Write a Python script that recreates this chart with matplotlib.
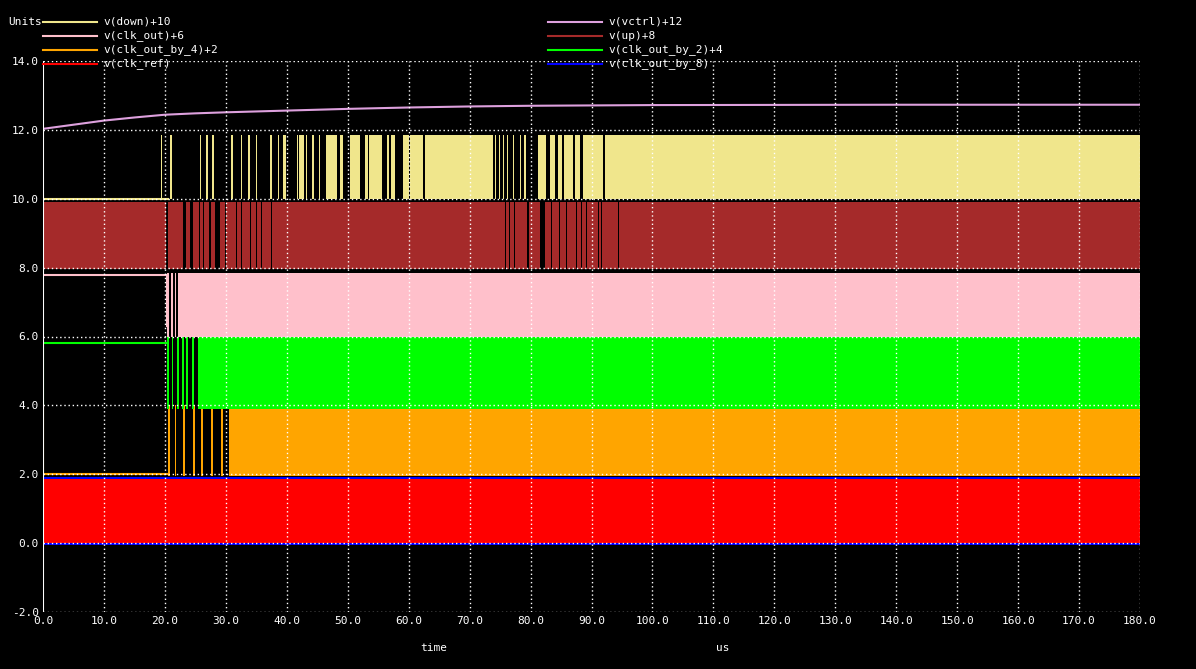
import matplotlib
matplotlib.use("Agg")
import matplotlib.pyplot as plt
import numpy as np

# vctrl+12 curve
vctrl_t = [0, 5, 10, 15, 20, 25, 30, 40, 50, 60, 70, 80, 100, 140, 180]
vctrl_v = [12.03, 12.15, 12.27, 12.36, 12.44, 12.48, 12.51, 12.56, 12.61, 12.65, 12.68, 12.70, 12.72, 12.73, 12.73]

# v(down)+10 : time intervals where the signal is high
down_segs = [[19.4, 19.6], [20.9, 21.1], [25.8, 26.0], [26.8, 27.0], [27.8, 28.0], [30.9, 31.1], [32.5, 32.7],
             [33.7, 33.9], [34.9, 35.1], [37.3, 37.5], [38.5, 38.7], [39.3, 39.5], [39.6, 39.8], [41.7, 41.9],
             [42.0, 42.8], [43.2, 43.4], [44.2, 44.4], [45.3, 45.5], [46.4, 48.2], [48.8, 49.0], [49.1, 49.3],
             [50.4, 52.0], [52.8, 53.3], [53.5, 55.6], [56.5, 56.7], [57.1, 57.8], [59.1, 60.0], [60.2, 62.3],
             [62.7, 73.8], [74.2, 74.4], [74.8, 75.0], [75.4, 75.6], [76.1, 76.3], [77.1, 77.3], [78.2, 78.4],
             [79.0, 79.2], [81.2, 82.6], [83.2, 84.0], [84.5, 85.2], [85.5, 87.0], [87.3, 88.1], [88.6, 91.9],
             [92.2, 180]]
# v(up)+8 : time intervals where the signal drops (gaps in the band)
up_gaps = [[20.2, 20.5], [22.9, 23.5], [24.2, 24.6], [25.6, 25.8], [26.2, 26.4], [27.3, 27.5], [28.2, 29.0],
           [29.8, 30.0], [31.6, 31.8], [32.5, 32.7], [33.9, 34.1], [34.9, 35.1], [35.8, 36.0], [37.4, 37.6],
           [75.8, 75.95], [76.5, 76.65], [77.3, 77.45], [77.7, 77.85], [79.4, 79.8], [81.6, 82.4], [83.4, 83.6],
           [84.7, 84.9], [85.8, 86.0], [87.5, 87.7], [88.3, 88.5], [89.1, 89.3], [91.0, 91.2], [91.6, 91.8],
           [94.3, 94.5]]
clkout_segs = [[20.3, 20.6], [21.0, 21.3], [21.6, 21.8], [22.1, 180]]
by2_segs = [[20.4, 20.7], [21.1, 21.4], [22.0, 22.3], [22.8, 23.1], [23.5, 23.8], [24.4, 24.7], [25.5, 180]]
by4_segs = [[20.5, 20.8], [21.6, 21.9], [23.0, 23.3], [24.6, 24.9], [26.0, 26.3], [27.6, 27.9], [29.2, 29.5], [30.6, 180]]
clkref_segs = [[0, 180]]
by8_segs = [[0, 180]]

bg = "black"
fig = plt.figure(figsize=(11.96, 6.69), dpi=100, facecolor=bg)
ax = fig.add_axes([43/1196, 57/669, (1140-43)/1196, (612-61)/669], facecolor=bg)
ax.set_xlim(0, 180)
ax.set_ylim(-2, 14)

def band(segs, lo, hi, color):
    ax.broken_barh([(a, b - a) for a, b in segs], (lo, hi - lo), facecolor=color, edgecolor="none", zorder=2)

up_segs = []
prev = 0.0
for a, b in up_gaps:
    up_segs.append([prev, a])
    prev = b
up_segs.append([prev, 180])

band(by8_segs, -0.06, 1.92, "#0000ff")
band(clkref_segs, 0.0, 1.85, "#ff0000")
band(by4_segs, 1.95, 4.0, "#ffa500")
band(by2_segs, 3.9, 6.0, "#00ff00")
band(clkout_segs, 6.0, 7.85, "#ffc0cb")
band(up_segs, 7.95, 9.9, "#a52a2a")
band(down_segs, 10.0, 11.85, "#f0e68c")

# pre-lock flat lines
ax.plot([0, 20.5], [10.0, 10.0], color="#f0e68c", lw=1.5, zorder=3)
ax.plot([0, 20.3, 20.3], [7.8, 7.8, 6.3], color="#ffc0cb", lw=1.5, zorder=3)
ax.plot([0, 0, 20.4], [4.0, 5.8, 5.8], color="#00ff00", lw=1.5, zorder=3)
ax.plot([0, 0, 20.5], [4.0, 2.0, 2.0], color="#ffa500", lw=1.5, zorder=3)
ax.plot(vctrl_t, vctrl_v, color="#dda0dd", lw=1.5, zorder=3)

for x in range(10, 181, 10):
    ax.axvline(x, color="white", ls=(0, (1, 2)), lw=1, zorder=4)
for y in range(-2, 15, 2):
    ax.axhline(y, color="white", ls=(0, (1, 2)), lw=1, zorder=4)
ax.axvline(0, color="white", lw=1.5, zorder=5)
for s in ax.spines.values():
    s.set_visible(False)
ax.set_xticks(range(0, 181, 10))
ax.set_xticklabels([f"{x}.0" for x in range(0, 181, 10)])
ax.set_yticks(range(-2, 15, 2))
ax.set_yticklabels([f"{y}.0" for y in range(-2, 15, 2)])
ax.tick_params(colors="white", labelsize=8, length=0, pad=3)
for lab in ax.get_xticklabels() + ax.get_yticklabels():
    lab.set_family("DejaVu Sans Mono")

fig.text(420/1196, 1 - 648/669, "time", color="white", fontsize=8, family="DejaVu Sans Mono", va="center")
fig.text(716/1196, 1 - 648/669, "us", color="white", fontsize=8, family="DejaVu Sans Mono", va="center")
fig.text(8/1196, 1 - 22/669, "Units", color="white", fontsize=8, family="DejaVu Sans Mono", va="center")

left = [("v(down)+10", "#f0e68c"), ("v(clk_out)+6", "#ffc0cb"), ("v(clk_out_by_4)+2", "#ffa500"), ("v(clk_ref)", "#ff0000")]
right = [("v(vctrl)+12", "#dda0dd"), ("v(up)+8", "#a52a2a"), ("v(clk_out_by_2)+4", "#00ff00"), ("v(clk_out_by_8)", "#0000ff")]
for i in range(4):
    yy = 1 - (22 + 14 * i) / 669
    for (name, col), x0 in ((left[i], 43), (right[i], 548)):
        fig.add_artist(plt.Line2D([x0/1196, (x0+54)/1196], [yy, yy], color=col, lw=1.5, transform=fig.transFigure))
        fig.text((x0+60)/1196, yy, name, color="white", fontsize=8, family="DejaVu Sans Mono", va="center")

fig.savefig("out.png", dpi=100, facecolor=bg)
